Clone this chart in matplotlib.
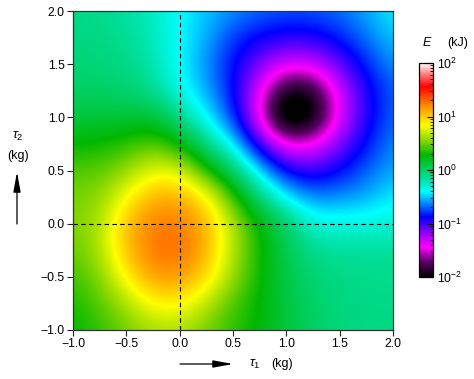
import numpy as np
import matplotlib
matplotlib.use("Agg")
import matplotlib.pyplot as plt
from matplotlib.colors import LinearSegmentedColormap, Normalize, LogNorm
from matplotlib.cm import ScalarMappable
from matplotlib.patches import FancyArrowPatch

plt.rcParams['font.family'] = ['Liberation Sans', 'DejaVu Sans']
plt.rcParams['mathtext.fontset'] = 'custom'
plt.rcParams['mathtext.rm'] = 'Liberation Sans'
plt.rcParams['mathtext.it'] = 'Liberation Sans:italic'
plt.rcParams['mathtext.bf'] = 'Liberation Sans:bold'

# grid coordinates (kg)
tau1 = [-1.0, -0.75, -0.5, -0.25, 0.0, 0.25, 0.5, 0.75, 1.0, 1.25, 1.5, 1.75, 2.0]
tau2 = [-1.0, -0.75, -0.5, -0.25, 0.0, 0.25, 0.5, 0.75, 1.0, 1.25, 1.5, 1.75, 2.0]

# log10(E / kJ), rows = tau2 (bottom -> top), columns = tau1 (left -> right)
logE_m100 = [0.28, 0.36, 0.50, 0.60, 0.62, 0.50, 0.36, 0.26, 0.12, 0.00, -0.07, -0.10, -0.10]
logE_m075 = [0.32, 0.45, 0.62, 0.86, 0.88, 0.67, 0.42, 0.27, 0.10, -0.02, -0.08, -0.10, -0.10]
logE_m050 = [0.40, 0.52, 0.88, 1.15, 1.17, 0.96, 0.58, 0.30, 0.08, -0.05, -0.10, -0.12, -0.12]
logE_m025 = [0.48, 0.62, 1.05, 1.27, 1.29, 1.10, 0.65, 0.30, 0.05, -0.12, -0.15, -0.15, -0.15]
logE_p000 = [0.52, 0.62, 1.05, 1.24, 1.26, 1.09, 0.64, 0.28, 0.00, -0.30, -0.32, -0.32, -0.30]
logE_p025 = [0.52, 0.55, 0.84, 1.10, 1.10, 0.90, 0.40, -0.05, -0.40, -0.62, -0.60, -0.55, -0.42]
logE_p050 = [0.45, 0.45, 0.58, 0.78, 0.78, 0.35, 0.00, -0.45, -0.90, -1.00, -0.87, -0.70, -0.55]
logE_p075 = [0.28, 0.30, 0.36, 0.46, 0.28, -0.10, -0.40, -1.00, -1.45, -1.43, -1.13, -0.85, -0.62]
logE_p100 = [0.10, 0.12, 0.12, 0.15, -0.10, -0.40, -0.75, -1.45, -2.30, -2.10, -1.36, -0.95, -0.68]
logE_p125 = [0.00, 0.00, -0.03, -0.12, -0.35, -0.55, -0.85, -1.38, -2.00, -1.95, -1.32, -0.94, -0.70]
logE_p150 = [-0.05, -0.07, -0.10, -0.20, -0.40, -0.60, -0.87, -1.13, -1.36, -1.32, -1.08, -0.82, -0.60]
logE_p175 = [-0.08, -0.10, -0.13, -0.23, -0.40, -0.55, -0.78, -0.90, -0.95, -0.94, -0.83, -0.66, -0.50]
logE_p200 = [-0.10, -0.12, -0.17, -0.25, -0.40, -0.50, -0.60, -0.68, -0.72, -0.72, -0.66, -0.56, -0.42]

logE = np.array([logE_m100, logE_m075, logE_m050, logE_m025, logE_p000, logE_p025,
                 logE_p050, logE_p075, logE_p100, logE_p125, logE_p150, logE_p175,
                 logE_p200])

xticks = [-1.0, -0.5, 0.0, 0.5, 1.0, 1.5, 2.0]
yticks = [-1.0, -0.5, 0.0, 0.5, 1.0, 1.5, 2.0]

cmap_stops = [
    (0.00, (0.00, 0.00, 0.00)),
    (0.07, (0.35, 0.00, 0.40)),
    (0.14, (1.00, 0.00, 1.00)),
    (0.21, (0.55, 0.00, 1.00)),
    (0.28, (0.00, 0.00, 1.00)),
    (0.34, (0.00, 0.50, 1.00)),
    (0.40, (0.00, 1.00, 1.00)),
    (0.47, (0.00, 0.86, 0.55)),
    (0.57, (0.00, 0.72, 0.00)),
    (0.64, (0.55, 0.85, 0.00)),
    (0.71, (1.00, 1.00, 0.00)),
    (0.80, (1.00, 0.55, 0.00)),
    (0.89, (1.00, 0.00, 0.00)),
    (0.95, (1.00, 0.50, 0.50)),
    (1.00, (1.00, 1.00, 1.00)),
]
cmap = LinearSegmentedColormap.from_list('ecmap', cmap_stops, N=512)

W, H = 474, 379
fig = plt.figure(figsize=(W / 100, H / 100), dpi=100)

def fx(px):
    return px / W

def fy(py):
    return 1 - py / H

ax = fig.add_axes([fx(73), fy(330), fx(393) - fx(73), fy(11) - fy(330)])
dx = (tau1[1] - tau1[0]) / 2
dy = (tau2[1] - tau2[0]) / 2
ax.imshow(logE, origin='lower', cmap=cmap, norm=Normalize(-2, 2),
          extent=[tau1[0] - dx, tau1[-1] + dx, tau2[0] - dy, tau2[-1] + dy],
          interpolation='bicubic', interpolation_stage='data', aspect='auto')
ax.set_xlim(-1, 2)
ax.set_ylim(-1, 2)
ax.axvline(0, color='black', lw=0.8, ls=(0, (4, 3)))
ax.axhline(0, color='black', lw=0.8, ls=(0, (4, 3)))
ax.set_xticks(xticks)
ax.set_yticks(yticks)
ax.set_xticklabels([f"{v:.1f}".replace('-', '\u2212') for v in xticks])
ax.set_yticklabels([f"{v:.1f}".replace('-', '\u2212') for v in yticks])
ax.tick_params(direction='out', length=4, width=0.8, labelsize=8.8, pad=2,
               colors='#222222', labelcolor='black')
for s in ax.spines.values():
    s.set_linewidth(0.9)
    s.set_color('#333333')

# colorbar
cax = fig.add_axes([fx(419), fy(277), fx(433) - fx(419), fy(63) - fy(277)])
sm = ScalarMappable(norm=LogNorm(1e-2, 1e2), cmap=cmap)
cb = fig.colorbar(sm, cax=cax)
cb.set_ticks([1e-2, 1e-1, 1e0, 1e1, 1e2])
cb.ax.tick_params(which='major', direction='in', length=4, width=0.8, labelsize=8.8, pad=3)
cb.ax.tick_params(which='minor', direction='in', length=2, width=0.6)
cb.outline.set_linewidth(0.9)

fig.text(fx(427), fy(43), r'$E$', fontsize=9, ha='center', va='center')
fig.text(fx(458), fy(43), '(kJ)', fontsize=9, ha='center', va='center')

# axis labels with arrows
fig.text(fx(255), fy(364), r'$\tau_1$', fontsize=9.5, ha='center', va='center')
fig.text(fx(282), fy(364), '(kg)', fontsize=9, ha='center', va='center')
fig.text(fx(18), fy(136), r'$\tau_2$', fontsize=9.5, ha='center', va='center')
fig.text(fx(18), fy(156), '(kg)', fontsize=9, ha='center', va='center')

arrow_kw = dict(arrowstyle='-|>,head_length=1.2,head_width=0.22', color='black',
                lw=0.9, shrinkA=0, shrinkB=0, mutation_scale=10)
fig.add_artist(FancyArrowPatch((fx(180), fy(364)), (fx(233), fy(364)),
                               transform=fig.transFigure, **arrow_kw))
fig.add_artist(FancyArrowPatch((fx(17), fy(224)), (fx(17), fy(172)),
                               transform=fig.transFigure, **arrow_kw))

fig.savefig('out.png', dpi=100)
